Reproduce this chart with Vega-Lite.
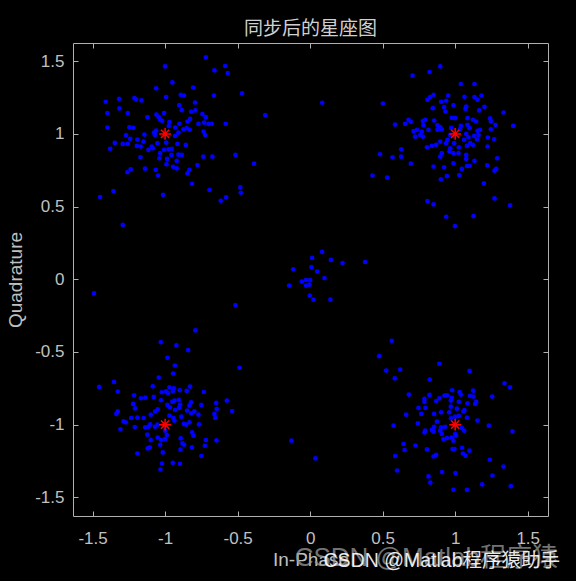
{
"$schema":"https://vega.github.io/schema/vega-lite/v6.json",
"width":475,"height":473,
"autosize":{"type":"none"},
"padding":{"left":73,"top":43,"right":28,"bottom":65},
"background":"black",
"config":{"view":{"stroke":null},"font":"Liberation Sans"},
"title":{"text":"同步后的星座图","font":"Noto Sans CJK SC","fontSize":19,"fontWeight":"normal","color":"#d0d0d0","offset":4},
"datasets":{
"pts":[
{"i":-0.719,"q":1.526},{"i":-1.0,"q":1.464},{"i":-0.586,"q":1.467},{"i":-0.66,"q":1.437},{"i":-0.568,"q":1.418},{"i":-0.95,"q":1.354},{"i":-1.062,"q":1.313},{"i":-0.807,"q":1.319},{"i":-0.892,"q":1.269},{"i":-0.869,"q":1.264},{"i":-0.469,"q":1.278},{"i":-0.993,"q":1.253},{"i":-0.663,"q":1.264},{"i":-1.409,"q":1.221},{"i":-1.317,"q":1.241},{"i":-1.212,"q":1.246},{"i":-1.2,"q":1.237},{"i":-1.163,"q":1.23},{"i":-0.793,"q":1.216},{"i":-0.903,"q":1.198},{"i":-1.315,"q":1.175},{"i":-0.885,"q":1.163},{"i":-1.398,"q":1.143},{"i":-1.257,"q":1.143},{"i":-1.007,"q":1.143},{"i":-0.821,"q":1.152},{"i":-0.791,"q":1.161},{"i":-1.06,"q":1.133},{"i":-1.044,"q":1.115},{"i":-1.034,"q":1.097},{"i":-1.122,"q":1.115},{"i":-0.743,"q":1.136},{"i":-0.719,"q":1.115},{"i":-0.31,"q":1.129},{"i":-0.97,"q":1.081},{"i":-0.975,"q":1.055},{"i":-1.021,"q":1.09},{"i":-0.828,"q":1.103},{"i":-0.846,"q":1.085},{"i":-0.901,"q":1.069},{"i":-0.77,"q":1.069},{"i":-0.731,"q":1.078},{"i":-0.701,"q":1.069},{"i":-0.678,"q":1.069},{"i":-0.582,"q":1.069},{"i":-1.398,"q":1.044},{"i":-1.246,"q":1.046},{"i":-1.219,"q":1.041},{"i":-0.931,"q":1.044},{"i":-0.874,"q":1.032},{"i":-0.851,"q":1.039},{"i":-0.83,"q":1.028},{"i":-1.062,"q":1.023},{"i":-1.076,"q":1.009},{"i":-1.071,"q":0.993},{"i":-0.735,"q":1.016},{"i":-0.724,"q":0.993},{"i":-1.269,"q":0.991},{"i":-1.143,"q":0.995},{"i":-0.908,"q":1.009},{"i":-0.931,"q":0.986},{"i":-1.241,"q":0.966},{"i":-1.191,"q":0.961},{"i":-1.149,"q":0.947},{"i":-1.347,"q":0.938},{"i":-1.292,"q":0.931},{"i":-1.257,"q":0.931},{"i":-1.195,"q":0.917},{"i":-1.168,"q":0.913},{"i":-1.053,"q":0.936},{"i":-1.092,"q":0.913},{"i":-0.993,"q":0.94},{"i":-0.915,"q":0.931},{"i":-0.857,"q":0.924},{"i":-1.379,"q":0.897},{"i":-1.115,"q":0.89},{"i":-1.085,"q":0.901},{"i":-1.007,"q":0.89},{"i":-0.977,"q":0.894},{"i":-0.954,"q":0.897},{"i":-1.034,"q":0.867},{"i":-0.908,"q":0.857},{"i":-0.885,"q":0.855},{"i":-0.956,"q":0.855},{"i":-1.17,"q":0.839},{"i":-1.039,"q":0.832},{"i":-0.986,"q":0.828},{"i":-0.736,"q":0.843},{"i":-0.674,"q":0.843},{"i":-0.515,"q":0.855},{"i":-0.92,"q":0.814},{"i":-0.991,"q":0.791},{"i":-0.777,"q":0.786},{"i":-0.386,"q":0.795},{"i":-1.138,"q":0.761},{"i":-1.064,"q":0.752},{"i":-0.945,"q":0.774},{"i":-0.92,"q":0.763},{"i":-1.237,"q":0.756},{"i":-1.26,"q":0.736},{"i":-0.832,"q":0.752},{"i":-0.846,"q":0.729},{"i":-1.048,"q":0.713},{"i":-0.814,"q":0.657},{"i":-0.481,"q":0.632},{"i":-0.478,"q":0.595},{"i":-1.356,"q":0.607},{"i":-0.694,"q":0.614},{"i":-1.014,"q":0.581},{"i":-1.448,"q":0.566},{"i":-0.579,"q":0.563},{"i":-0.616,"q":0.54},{"i":-1.292,"q":0.374},
{"i":0.083,"q":1.214},
{"i":0.897,"q":1.464},{"i":0.706,"q":1.4},{"i":0.823,"q":1.425},{"i":1.039,"q":1.343},{"i":1.133,"q":1.343},{"i":0.501,"q":1.209},{"i":0.809,"q":1.234},{"i":0.828,"q":1.253},{"i":0.851,"q":1.269},{"i":0.952,"q":1.264},{"i":0.903,"q":1.221},{"i":0.938,"q":1.228},{"i":1.064,"q":1.255},{"i":1.133,"q":1.253},{"i":1.154,"q":1.234},{"i":1.181,"q":1.264},{"i":0.846,"q":1.177},{"i":0.924,"q":1.184},{"i":0.933,"q":1.154},{"i":0.988,"q":1.198},{"i":1.076,"q":1.188},{"i":1.071,"q":1.172},{"i":1.202,"q":1.186},{"i":1.166,"q":1.161},{"i":1.333,"q":1.147},{"i":0.678,"q":1.097},{"i":0.694,"q":1.083},{"i":0.586,"q":1.064},{"i":0.655,"q":1.069},{"i":0.777,"q":1.088},{"i":0.793,"q":1.097},{"i":0.781,"q":1.06},{"i":0.855,"q":1.092},{"i":0.977,"q":1.11},{"i":1.0,"q":1.108},{"i":0.878,"q":1.06},{"i":0.897,"q":1.046},{"i":0.878,"q":1.028},{"i":0.908,"q":1.032},{"i":1.085,"q":1.108},{"i":1.122,"q":1.097},{"i":1.145,"q":1.085},{"i":1.241,"q":1.106},{"i":1.246,"q":1.085},{"i":1.4,"q":1.055},{"i":1.278,"q":1.062},{"i":1.039,"q":1.055},{"i":1.034,"q":1.032},{"i":1.085,"q":1.062},{"i":1.099,"q":1.039},{"i":1.172,"q":1.028},{"i":1.154,"q":1.021},{"i":1.246,"q":1.032},{"i":0.713,"q":1.019},{"i":0.736,"q":1.028},{"i":0.724,"q":0.981},{"i":0.77,"q":1.016},{"i":0.777,"q":0.981},{"i":0.759,"q":0.993},{"i":0.816,"q":1.028},{"i":0.972,"q":1.041},{"i":0.966,"q":0.993},{"i":1.076,"q":1.0},{"i":1.092,"q":0.977},{"i":1.131,"q":0.986},{"i":1.161,"q":0.993},{"i":1.225,"q":0.975},{"i":1.269,"q":0.963},{"i":1.062,"q":0.959},{"i":1.081,"q":0.917},{"i":1.122,"q":0.924},{"i":1.103,"q":0.936},{"i":1.15,"q":0.963},{"i":0.897,"q":0.947},{"i":0.947,"q":0.959},{"i":0.938,"q":0.936},{"i":0.805,"q":0.908},{"i":0.839,"q":0.917},{"i":0.869,"q":0.924},{"i":0.993,"q":0.936},{"i":0.966,"q":0.901},{"i":0.961,"q":0.878},{"i":1.025,"q":0.908},{"i":1.223,"q":0.913},{"i":0.628,"q":0.894},{"i":0.908,"q":0.867},{"i":0.897,"q":0.843},{"i":0.988,"q":0.867},{"i":1.023,"q":0.867},{"i":1.076,"q":0.855},{"i":1.076,"q":0.828},{"i":0.481,"q":0.86},{"i":0.568,"q":0.839},{"i":0.628,"q":0.843},{"i":1.29,"q":0.832},{"i":1.133,"q":0.814},{"i":0.694,"q":0.795},{"i":0.988,"q":0.798},{"i":0.851,"q":0.775},{"i":0.924,"q":0.77},{"i":1.221,"q":0.784},{"i":1.081,"q":0.779},{"i":1.099,"q":0.779},{"i":1.046,"q":0.759},{"i":1.283,"q":0.759},{"i":1.271,"q":0.747},{"i":0.43,"q":0.713},{"i":0.531,"q":0.699},{"i":0.943,"q":0.71},{"i":1.028,"q":0.717},{"i":0.901,"q":0.687},{"i":1.198,"q":0.66},{"i":1.271,"q":0.556},{"i":0.809,"q":0.538},{"i":0.851,"q":0.515},{"i":1.379,"q":0.508},{"i":0.938,"q":0.43},{"i":1.126,"q":0.434},{"i":0.998,"q":0.366},
{"i":-0.515,"q":-0.177},{"i":-0.791,"q":-0.352},{"i":-1.03,"q":-0.432},{"i":-0.922,"q":-0.455},{"i":-0.841,"q":-0.487},{"i":-0.984,"q":-0.54},{"i":-0.933,"q":-0.593},{"i":-0.487,"q":-0.609},{"i":-0.945,"q":-0.648},{"i":-1.044,"q":-0.676},{"i":-1.352,"q":-0.706},{"i":-1.455,"q":-0.74},{"i":-1.326,"q":-0.772},{"i":-1.085,"q":-0.736},{"i":-1.023,"q":-0.777},{"i":-0.993,"q":-0.77},{"i":-0.979,"q":-0.784},{"i":-0.97,"q":-0.743},{"i":-0.94,"q":-0.75},{"i":-0.947,"q":-0.77},{"i":-0.899,"q":-0.763},{"i":-0.851,"q":-0.768},{"i":-0.828,"q":-0.738},{"i":-0.733,"q":-0.775},{"i":-1.214,"q":-0.798},{"i":-1.166,"q":-0.818},{"i":-1.136,"q":-0.814},{"i":-1.078,"q":-0.809},{"i":-1.028,"q":-0.832},{"i":-0.936,"q":-0.834},{"i":-0.95,"q":-0.843},{"i":-0.906,"q":-0.83},{"i":-1.221,"q":-0.857},{"i":-1.207,"q":-0.888},{"i":-0.984,"q":-0.864},{"i":-0.966,"q":-0.88},{"i":-0.931,"q":-0.899},{"i":-0.903,"q":-0.885},{"i":-0.897,"q":-0.862},{"i":-0.821,"q":-0.846},{"i":-0.832,"q":-0.869},{"i":-0.75,"q":-0.864},{"i":-0.648,"q":-0.85},{"i":-0.574,"q":-0.834},{"i":-1.051,"q":-0.894},{"i":-1.069,"q":-0.91},{"i":-1.099,"q":-0.931},{"i":-1.326,"q":-0.908},{"i":-1.336,"q":-0.926},{"i":-0.848,"q":-0.903},{"i":-0.821,"q":-0.922},{"i":-0.798,"q":-0.908},{"i":-0.644,"q":-0.892},{"i":-0.538,"q":-0.906},{"i":-0.77,"q":-0.931},{"i":-0.66,"q":-0.926},{"i":-0.655,"q":-0.954},{"i":-0.97,"q":-0.938},{"i":-0.943,"q":-0.954},{"i":-0.936,"q":-0.972},{"i":-0.888,"q":-0.945},{"i":-1.234,"q":-0.954},{"i":-1.191,"q":-0.952},{"i":-1.148,"q":-0.954},{"i":-1.287,"q":-0.977},{"i":-1.271,"q":-0.984},{"i":-1.053,"q":-1.0},{"i":-1.069,"q":-1.014},{"i":-1.103,"q":-0.998},{"i":-1.115,"q":-1.014},{"i":-1.138,"q":-1.018},{"i":-1.209,"q":-1.016},{"i":-1.308,"q":-1.032},{"i":-0.871,"q":-0.995},{"i":-0.855,"q":-1.0},{"i":-0.832,"q":-0.984},{"i":-0.766,"q":-0.998},{"i":-1.0,"q":-1.041},{"i":-0.988,"q":-1.071},{"i":-1.0,"q":-1.099},{"i":-1.028,"q":-1.106},{"i":-1.051,"q":-1.088},{"i":-1.034,"q":-1.138},{"i":-1.122,"q":-1.069},{"i":-1.099,"q":-1.106},{"i":-0.892,"q":-1.094},{"i":-0.881,"q":-1.129},{"i":-0.869,"q":-1.138},{"i":-0.814,"q":-1.053},{"i":-0.805,"q":-1.076},{"i":-0.719,"q":-1.106},{"i":-0.646,"q":-1.108},{"i":-0.726,"q":-1.145},{"i":-1.106,"q":-1.156},{"i":-1.12,"q":-1.163},{"i":-0.814,"q":-1.156},{"i":-0.894,"q":-1.172},{"i":-1.016,"q":-1.191},{"i":-1.191,"q":-1.198},{"i":-0.75,"q":-1.216},{"i":-1.021,"q":-1.267},{"i":-0.947,"q":-1.262},{"i":-0.897,"q":-1.269},{"i":-1.032,"q":-1.308},
{"i":0.563,"q":-0.423},{"i":0.476,"q":-0.529},{"i":0.89,"q":-0.581},{"i":0.524,"q":-0.628},{"i":0.621,"q":-0.621},{"i":1.099,"q":-0.63},{"i":0.584,"q":-0.681},{"i":0.825,"q":-0.69},{"i":1.34,"q":-0.715},{"i":1.379,"q":-0.743},{"i":0.979,"q":-0.763},{"i":1.03,"q":-0.775},{"i":1.039,"q":-0.793},{"i":1.124,"q":-0.766},{"i":0.681,"q":-0.793},{"i":0.823,"q":-0.795},{"i":0.926,"q":-0.8},{"i":0.943,"q":-0.798},{"i":0.977,"q":-0.816},{"i":0.97,"q":-0.834},{"i":1.103,"q":-0.802},{"i":1.126,"q":-0.807},{"i":1.255,"q":-0.807},{"i":0.788,"q":-0.823},{"i":0.788,"q":-0.843},{"i":0.869,"q":-0.837},{"i":0.892,"q":-0.819},{"i":1.025,"q":-0.843},{"i":1.085,"q":-0.853},{"i":1.145,"q":-0.843},{"i":1.138,"q":-0.857},{"i":0.747,"q":-0.885},{"i":0.795,"q":-0.885},{"i":0.97,"q":-0.876},{"i":1.012,"q":-0.89},{"i":1.064,"q":-0.899},{"i":1.057,"q":-0.908},{"i":0.766,"q":-0.926},{"i":0.903,"q":-0.915},{"i":0.855,"q":-0.926},{"i":0.959,"q":-0.915},{"i":0.662,"q":-0.931},{"i":1.025,"q":-0.94},{"i":1.0,"q":-0.945},{"i":1.081,"q":-0.952},{"i":0.972,"q":-0.956},{"i":0.874,"q":-0.979},{"i":1.154,"q":-0.972},{"i":0.743,"q":-0.991},{"i":0.575,"q":-1.007},{"i":1.232,"q":-1.007},{"i":1.395,"q":-1.046},{"i":0.855,"q":-1.014},{"i":0.839,"q":-1.037},{"i":0.851,"q":-1.048},{"i":0.793,"q":-1.041},{"i":0.788,"q":-1.053},{"i":0.903,"q":-1.018},{"i":0.897,"q":-1.041},{"i":0.908,"q":-1.064},{"i":0.931,"q":-1.014},{"i":1.046,"q":-1.023},{"i":1.062,"q":-1.041},{"i":0.919,"q":-1.099},{"i":0.943,"q":-1.092},{"i":0.977,"q":-1.088},{"i":0.988,"q":-1.11},{"i":1.007,"q":-1.076},{"i":1.0,"q":-1.064},{"i":0.644,"q":-1.133},{"i":0.726,"q":-1.143},{"i":0.805,"q":-1.17},{"i":0.651,"q":-1.174},{"i":0.982,"q":-1.168},{"i":0.995,"q":-1.168},{"i":1.048,"q":-1.159},{"i":1.099,"q":-1.179},{"i":1.053,"q":-1.198},{"i":1.071,"q":-1.214},{"i":0.869,"q":-1.207},{"i":0.851,"q":-1.219},{"i":0.586,"q":-1.216},{"i":1.239,"q":-1.241},{"i":1.333,"q":-1.288},{"i":0.6,"q":-1.315},{"i":0.91,"q":-1.326},{"i":1.002,"q":-1.333},{"i":1.257,"q":-1.35},{"i":0.816,"q":-1.356},{"i":0.828,"q":-1.398},{"i":1.186,"q":-1.411},{"i":1.384,"q":-1.423},{"i":0.988,"q":-1.448},{"i":1.081,"q":-1.448},
{"i":0.083,"q":0.188},{"i":0.014,"q":0.147},{"i":0.143,"q":0.133},{"i":0.223,"q":0.112},{"i":0.379,"q":0.119},{"i":-0.117,"q":0.069},{"i":0.009,"q":0.083},{"i":0.048,"q":0.053},{"i":-0.057,"q":-0.016},{"i":-0.028,"q":-0.005},{"i":0.0,"q":-0.005},{"i":-0.028,"q":-0.043},{"i":-0.005,"q":-0.037},{"i":0.099,"q":0.009},{"i":-0.145,"q":-0.043},{"i":-0.002,"q":-0.113},{"i":0.023,"q":-0.14},{"i":0.14,"q":-0.14},{"i":-1.49,"q":-0.097},{"i":-0.129,"q":-1.11},{"i":0.037,"q":-1.232}
],
"ref":[{"i":-1,"q":1},{"i":1,"q":1},{"i":-1,"q":-1},{"i":1,"q":-1}],
"wm":[{"i":1.709,"q":-1.972,"t":"CSDN @Matlab程序猿","k":"big"},{"i":1.723,"q":-1.979,"t":"CSDN @Matlab程序猿助手","k":"small"}]
},
"layer":[
{"data":{"name":"pts"},
 "mark":{"type":"point","filled":true,"shape":"circle","size":22,"color":"#0000ff","opacity":1},
 "encoding":{
  "x":{"field":"i","type":"quantitative","scale":{"domain":[-1.635,1.64],"nice":false,"zero":false},
   "axis":{"orient":"bottom","values":[-1.5,-1,-0.5,0,0.5,1,1.5],"labelExpr":"'' + datum.value","tickSize":-5,"labelPadding":19,"grid":false,"domainColor":"#b0b0b0","tickColor":"#b0b0b0","labelColor":"#c0c0c0","labelFont":"Liberation Sans","labelFontSize":17,"labelFlush":false,"labelOverlap":false,"title":"In-Phase","titleFont":"Liberation Sans","titleFontSize":19,"titleFontWeight":"normal","titleColor":"#c0c0c0","titlePadding":4}},
  "y":{"field":"q","type":"quantitative","scale":{"domain":[-1.628,1.625],"nice":false,"zero":false},
   "axis":{"orient":"left","values":[-1.5,-1,-0.5,0,0.5,1,1.5],"labelExpr":"'' + datum.value","tickSize":-5,"labelPadding":14,"grid":false,"domainColor":"#b0b0b0","tickColor":"#b0b0b0","labelColor":"#c0c0c0","labelFont":"Liberation Sans","labelFontSize":17,"labelFlush":false,"labelOverlap":false,"title":"Quadrature","titleFont":"Liberation Sans","titleFontSize":19,"titleFontWeight":"normal","titleColor":"#c0c0c0","titlePadding":9}}
 }},
{"data":{"name":"ref"},
 "mark":{"type":"point","shape":"M-1,0L1,0M0,-1L0,1M-0.7,-0.7L0.7,0.7M-0.7,0.7L0.7,-0.7","size":140,"color":"#ff0000","filled":false,"strokeWidth":1.5,"opacity":1},
 "encoding":{
  "x":{"field":"i","type":"quantitative","axis":{"orient":"top","values":[-1.5,-1,-0.5,0,0.5,1,1.5],"labels":false,"tickSize":-5,"grid":false,"domainColor":"#b0b0b0","tickColor":"#b0b0b0","title":null}},
  "y":{"field":"q","type":"quantitative","axis":{"orient":"right","values":[-1.5,-1,-0.5,0,0.5,1,1.5],"labels":false,"tickSize":-5,"grid":false,"domainColor":"#b0b0b0","tickColor":"#b0b0b0","title":null}}
 }},
{"data":{"name":"wm"},"transform":[{"filter":"datum.k == 'big'"}],
 "mark":{"type":"text","align":"right","baseline":"alphabetic","font":"Liberation Sans, Noto Sans CJK SC","fontSize":26,"color":"#9a9a9a","opacity":0.75},
 "encoding":{"x":{"field":"i","type":"quantitative","axis":null},"y":{"field":"q","type":"quantitative","axis":null},"text":{"field":"t"}}},
{"data":{"name":"wm"},"transform":[{"filter":"datum.k == 'small'"}],
 "mark":{"type":"text","align":"right","baseline":"alphabetic","font":"Liberation Sans, Noto Sans CJK SC","fontSize":19.5,"color":"#ffffff","opacity":0.9},
 "encoding":{"x":{"field":"i","type":"quantitative","axis":null},"y":{"field":"q","type":"quantitative","axis":null},"text":{"field":"t"}}}
],
"resolve":{"axis":{"x":"independent","y":"independent"}}
}
